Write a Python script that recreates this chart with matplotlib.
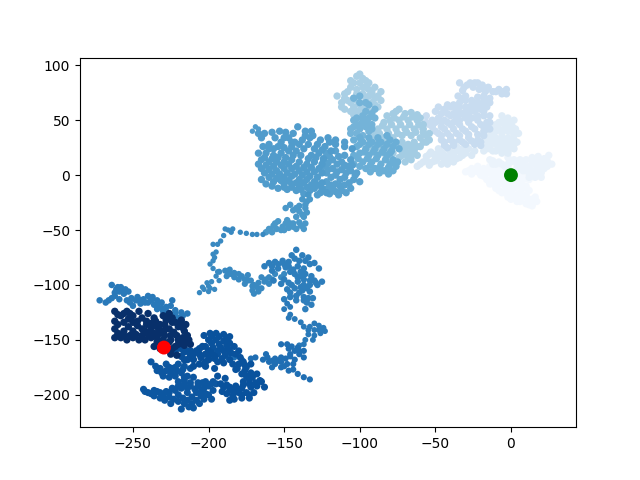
#!/usr/bin/python3
# -*- coding: utf-8 -*-
"""
Random walk, points read off the picture section by section
"""
import numpy as np
import matplotlib
matplotlib.use("Agg")
import matplotlib.pyplot as plt

start_point = (0, 0)
end_point = (-229.5, -157)

sec_01 = [(-30,3),(-26,6),(-26,1),(-22,3),(-22,8),(-18,6),(-18,-1),(-14,2),(-14,-8),(-14,8),(-10,-12),(-10,-3),(-10,5),(-6,-6),(-6,2),(-6,-16),
          (-2,-12),(-2,-4),(-2,-20),(2,-20),(2,-12),(2,-6),(6,-24),(6,-16),(6,-8),(10,-26),(10,-18),(10,-10),(14,-28),(14,-22),(-3,5),(3,4),(17,-24),(7,0),(12,-4),
          (-28,4),(-24,4),(-20,4),(-20,0),(-16,3),(-16,-4),(-12,-2),(-12,-8),(-12,3),(-8,-8),(-8,0),(-8,-14),(-8,6),(-4,-10),(-4,-2),(-4,-16),(0,-8),(0,-15),(0,-22),
          (4,-10),(4,-18),(4,-24),(8,-12),(8,-20),(8,-4),(12,-14),(12,-22),(12,-27),(16,-20),(4,-2),(-1,2),(6,3)]
sec_02 = [(8,4),(12,0),(12,8),(16,4),(20,2),(16,10),(20,10),(24,8),(27,10),(22,15),(25,18),(18,17),(14,16),(10,14),(6,14),(2,14),(-2,16),(-2,10),(4,10),(-4,8),(-8,12),(-12,10),(16,0),(8,9),(-14,14),
          (10,4),(14,4),(18,6),(22,6),(14,12),(18,13),(22,11),(8,11),(0,12),(4,7),(-2,7),(6,6),(-6,10),(-10,10),(-12,13),(24,13),(12,-2),(16,-2),(20,-2)]
sec_03 = [(-18,22),(-14,24),(-10,22),(-6,24),(-2,22),(2,24),(-16,30),(-12,32),(-8,30),(-4,32),(0,30),(4,30),(-14,38),(-10,40),(-6,38),(-2,40),(2,36),(5,38),(-10,46),(-6,48),(-2,46),(1,44),(-6,54),(-2,52),(2,50),(-14,44),(-18,28),(-20,34),
          (-16,24),(-12,22),(-8,26),(-4,26),(0,26),(-14,28),(-10,28),(-6,28),(-2,28),(2,28),(-18,32),(-14,34),(-10,34),(-6,34),(-2,34),(2,32),(-16,40),(-12,36),(-8,42),(-4,42),(0,40),(3,42),(-12,42),(-8,48),(-4,50),(0,48),(-4,44),(-16,36),(-2,20),(-6,20)]
sec_04 = [(-62,8),(-58,12),(-54,9),(-50,13),(-46,10),(-42,14),(-38,12),(-34,16),(-56,17),(-50,19),(-44,18),(-38,19),(-34,22),(-48,24),(-42,24),(-36,26),(-30,20),(-26,18),(-53,21),(-28,24),(-24,22),
          (-60,10),(-56,14),(-52,12),(-48,16),(-44,14),(-40,16),(-36,15),(-32,18),(-54,19),(-46,21),(-40,21),(-32,24),(-50,16),(-36,22),(-42,10)]
sec_05 = [(-60,44),(-56,48),(-52,50),(-48,52),(-44,50),(-40,54),(-36,52),(-32,56),(-28,56),(-24,58),(-20,60),(-18,54),(-52,44),(-46,44),(-40,46),(-34,46),(-28,48),(-22,50),(-16,48),(-14,42),(-18,44),
          (-48,38),(-42,38),(-36,38),(-30,40),(-24,42),(-18,36),(-46,32),(-40,32),(-34,32),(-28,34),(-22,32),(-44,27),(-38,27),(-30,28),(-24,28),(-20,27),
          (-44,60),(-40,62),(-36,60),(-34,66),(-30,62),(-26,64),(-22,66),(-18,68),(-16,62),(-50,58),(-56,54),(-30,68),(-35,72),(-32,77),(-34,84),(-29,82),(-25,80),(-21,78),(-17,76),(-22,84),(-19,82),(-15,80),(-12,76),(-8,78),(-5,76),(-3,78),(-18,72),(-14,70),
          (-58,46),(-54,46),(-50,48),(-46,48),(-42,48),(-38,48),(-34,50),(-30,52),(-26,52),(-22,54),(-18,58),(-14,54),(-14,48),(-50,40),(-44,42),(-38,42),(-32,42),(-26,44),(-20,46),(-16,42),(-46,36),(-40,35),(-34,36),(-28,37),(-22,37),(-18,40),
          (-44,30),(-38,30),(-32,30),(-26,31),(-20,30),(-42,25),(-42,56),(-38,56),(-34,56),(-46,56),(-30,58),(-26,60),(-22,62),(-18,64),(-38,64),(-34,62),(-42,64),(-48,62),(-26,68),(-22,71),(-14,66),(-27,84),(-24,84),(-31,80),(-20,80),(-16,78),(-10,76),(-6,74),(-3,74),(-30,72),(-32,70)]
sec_06 = [(-94,22),(-90,26),(-86,28),(-82,24),(-78,20),(-74,16),(-70,12),(-66,14),(-72,22),(-68,20),(-64,22),(-76,28),(-72,30),(-68,28),(-64,30),(-60,26),(-56,30),(-90,34),(-84,34),(-78,34),(-72,36),(-66,36),(-60,34),(-56,36),
          (-54,32),(-88,42),(-82,42),(-76,42),(-70,42),(-64,42),(-58,42),(-54,38),(-80,50),(-74,50),(-68,50),(-62,50),(-58,46),(-84,48),(-78,56),(-74,60),(-70,56),
          (-92,24),(-88,22),(-84,20),(-80,16),(-76,12),(-72,18),(-68,16),(-66,18),(-62,18),(-88,30),(-82,30),(-78,30),(-74,26),(-70,25),(-66,25),(-62,26),(-58,30),(-87,38),(-81,38),(-75,38),(-69,39),(-63,39),(-58,39),(-85,45),(-79,46),(-73,46),(-67,46),(-61,46),(-77,52),(-71,53),(-65,53),(-60,52),(-82,54),(-66,57),(-62,55),(-76,58),(-91,38)]
sec_07 = [(-104,55),(-108,68),(-104,62),(-100,58),(-96,62),(-92,66),(-88,62),(-86,68),(-110,74),(-106,80),(-102,78),(-98,74),(-94,72),(-90,70),(-86,76),(-106,86),(-102,90),(-98,88),(-94,84),(-90,80),(-112,66),(-115,72),(-100,92),(-104,70),(-96,80),(-110,60),
          (-106,58),(-102,58),(-98,60),(-94,58),(-90,64),(-106,66),(-100,64),(-96,70),(-92,76),(-88,72),(-108,76),(-102,74),(-98,80),(-94,78),(-104,84),(-100,84),(-96,86),(-92,74),(-110,70),(-112,62),(-102,68)]
sec_08 = [(-106,42),(-102,38),(-98,36),(-94,40),(-92,46),(-96,48),(-100,46),(-104,50),(-98,54),(-94,52),(-90,52),(-106,38),(-102,46),(-104,70),(-100,72),(-96,66),(-100,66),(-94,64),(-90,60),
          (-100,42),(-96,44),(-92,42),(-104,44),(-98,50),(-94,46),(-102,52),(-92,56),(-96,58)]
sec_09 = [(-104,32),(-98,30),(-92,30),(-86,30),(-80,32),(-102,26),(-96,24),(-90,24),(-84,24),(-78,26),(-74,24),(-100,20),(-94,18),(-88,18),(-82,18),(-78,14),(-104,18),(-98,12),(-92,12),(-86,10),(-80,10),(-76,8),(-104,10),(-96,6),(-90,6),(-84,4),(-78,4),(-80,20),
          (-100,34),(-94,34),(-88,34),(-82,36),(-100,28),(-94,28),(-88,28),(-82,28),(-76,30),(-97,21),(-91,21),(-85,21),(-79,22),(-101,15),(-95,15),(-89,15),(-83,14),(-77,11),(-100,8),(-93,9),(-87,7),(-81,7),(-75,12),(-93,3),(-87,2),(-81,1)]
sec_10 = [(-122,20),(-116,22),(-110,18),(-106,14),(-124,14),(-118,14),(-112,12),(-108,8),(-124,8),(-118,6),(-112,5),(-106,4),(-102,2),(-122,2),(-116,0),(-110,-2),(-104,-4),(-100,-6),(-122,-6),(-116,-8),(-110,-9),(-118,-12),(-112,-14),(-106,-12),(-124,-14),(-120,-17),(-114,-18),
          (-120,17),(-114,17),(-121,11),(-115,10),(-110,9),(-105,9),(-121,5),(-115,3),(-109,2),(-103,0),(-119,-2),(-113,-4),(-107,-7),(-119,-9),(-113,-10),(-121,-12),(-116,-15),(-109,-16)]
sec_11 = [(-167,38),(-163,38),(-158,39),(-153,40),(-149,39),(-144,38),(-141,44),(-136,40),(-132,40),(-165,34),(-160,28),(-157,24),(-152,30),(-147,34),(-143,30),(-138,32),(-133,34),(-128,28),(-123,26),
          (-167,20),(-162,20),(-157,18),(-152,20),(-147,22),(-142,22),(-137,24),(-132,18),(-127,20),(-120,30),(-116,28),(-110,26),(-105,24),(-165,14),(-160,12),(-155,12),(-150,12),(-145,14),(-140,12),(-135,10),(-130,12),(-125,10),
          (-165,6),(-160,5),(-155,4),(-150,6),(-145,6),(-140,4),(-135,3),(-130,3),(-125,2),(-160,-2),(-155,-3),(-150,-2),(-145,-1),(-140,-4),(-135,-4),(-130,-6),(-125,-7),(-150,-8),(-145,-8),(-140,-10),(-135,-11),(-130,-12),(-125,-12),
          (-162,-8),(-158,-10),(-154,-12),(-148,-13),(-142,-14),(-137,-17),(-128,-18),(-126,-16),
          (-156,34),(-150,34),(-145,30),(-140,28),(-136,36),(-131,36),(-126,32),(-121,34),(-116,32),(-110,30),(-164,26),(-160,24),(-154,26),(-150,25),(-145,26),(-134,28),(-130,24),(-125,23),(-119,22),
          (-163,16),(-158,15),(-154,16),(-149,16),(-144,18),(-139,18),(-134,15),(-129,16),(-124,15),(-167,10),(-162,9),(-157,8),(-152,9),(-147,10),(-142,8),(-137,7),(-132,7),(-127,6),(-163,2),(-158,1),(-153,1),(-148,2),(-143,1),(-138,0),(-133,-1),(-128,-2),
          (-157,-6),(-152,-5),(-147,-5),(-142,-7),(-137,-7),(-132,-9),(-127,-9),(-150,-11),(-145,-11),(-139,-13),(-133,-14),(-122,-16),(-165,-4)]
sec_11b = [(-171,40),(-169,44),(-167,42)]
sec_12 = [(-134,-18),(-135,-24),(-138,-22),(-136,-30),(-140,-28),(-146,-27),(-149,-30),(-144,-32),(-140,-33),(-135,-34),(-137,-38),(-142,-38),(-144,-44),(-148,-41),(-140,-43),(-136,-44),(-137,-49),(-142,-49),(-147,-48),(-151,-47),(-154,-42),(-157,-46),(-160,-49),(-162,-52),(-158,-52),(-155,-49),(-150,-50),
          (-133,-22),(-136,-27),(-142,-30),(-138,-36),(-146,-44),(-139,-46),(-144,-47),(-149,-44),(-152,-50),(-159,-50),(-156,-44)]
sec_13 = [(-164,-54),(-168,-54),(-171,-54),(-175,-53),(-179,-52),(-184,-49),(-189,-49),(-185,-52),(-190,-55),(-192,-60),(-194,-63),(-197,-63),(-195,-70),(-197,-72),(-197,-78),(-199,-81),(-197,-85),(-194,-88),(-195,-92),(-193,-96),(-198,-97),(-200,-101),(-203,-104),(-206,-107),(-200,-106),(-196,-104),
          (-187,-50),(-196,-75),(-201,-98),(-204,-102),(-199,-103)]
sec_14 = [(-193,-88),(-189,-87),(-186,-86),(-185,-90),(-188,-92),(-183,-93),(-180,-90),(-180,-95),(-176,-95),(-176,-99),(-172,-96),(-174,-91),(-170,-100),(-171,-105),(-167,-106),(-170,-108),(-165,-103),(-167,-98),(-163,-97),(-160,-99),(-165,-93),(-160,-93),(-156,-90),(-150,-90),
          (-187,-90),(-183,-89),(-178,-92),(-174,-96),(-171,-101),(-168,-102),(-162,-95),(-158,-95),(-152,-93)]
sec_15 = [(-163,-83),(-160,-80),(-156,-79),(-154,-85),(-158,-87),(-151,-78),(-147,-79),(-145,-73),(-142,-68),(-138,-73),(-134,-75),(-130,-80),(-127,-85),(-133,-81),(-149,-84),(-146,-88),(-141,-83),(-137,-85),(-143,-90),(-139,-92),(-136,-90),(-132,-92),(-130,-96),(-125,-97),(-128,-100),(-141,-97),(-137,-100),
          (-133,-100),(-147,-98),(-152,-99),(-157,-96),(-148,-104),(-143,-103),(-138,-105),(-133,-106),(-137,-111),(-142,-110),(-146,-111),(-150,-113),(-135,-116),(-132,-118),(-136,-122),(-131,-112),
          (-158,-83),(-154,-81),(-150,-81),(-147,-83),(-143,-76),(-140,-78),(-136,-78),(-139,-88),(-144,-86),(-141,-93),(-137,-95),(-133,-96),(-139,-102),(-135,-103),(-145,-100),(-150,-95),(-140,-107),(-146,-107),(-137,-114),(-134,-112),(-129,-98),(-142,-114)]
sec_16 = [(-148,-117),(-146,-120),(-150,-122),(-146,-127),(-147,-130),(-143,-131),(-139,-134),(-137,-138),(-134,-141),(-130,-135),(-127,-137),(-124,-139),(-123,-142),(-126,-144),(-130,-146),(-134,-145),(-136,-150),(-131,-150),(-137,-154),(-140,-155),
          (-127,-141),(-130,-141),(-133,-138),(-125,-141)]
sec_17 = [(-133,-186),(-137,-184),(-141,-181),(-144,-177),(-147,-178),(-148,-172),(-152,-170),(-149,-167),(-146,-165),(-152,-166),(-156,-167),(-152,-175),(-156,-172),(-160,-170),(-161,-166),(-162,-163),(-158,-175),(-143,-168),(-147,-158),(-143,-160),(-148,-154),(-141,-157),(-137,-160),(-137,-166),(-140,-163),(-152,-154),(-146,-163),(-164,-168),(-169,-166),(-172,-167),(-178,-168),(-183,-166),(-187,-166),
          (-158,-169),(-154,-169),(-150,-174),(-144,-172),(-140,-160),(-145,-156)]
sec_18 = [(-272,-114),(-268,-116),(-264,-112),(-262,-107),(-264,-100),(-261,-104),(-258,-102),(-256,-108),(-253,-106),(-251,-112),(-247,-111),(-243,-113),(-240,-110),(-237,-111),(-234,-114),(-231,-116),(-228,-120),(-224,-114),(-236,-118),(-240,-116),(-245,-117),(-250,-119),(-254,-114),(-230,-124),(-226,-126),(-222,-123),(-220,-130),(-217,-128),(-214,-126),(-234,-122),(-259,-113),
          (-266,-114),(-262,-110),(-259,-106),(-255,-104),(-245,-114),(-242,-116),(-238,-114),(-234,-118),(-231,-121),(-228,-124),(-225,-119),(-222,-126),(-218,-125),(-248,-114),(-252,-116),(-260,-102),(-258,-105)]
sec_19 = [(-203,-146),(-199,-144),(-195,-144),(-190,-145),(-186,-147),(-200,-150),(-195,-150),(-190,-151),(-186,-153),(-202,-156),(-197,-157),(-192,-157),(-187,-158),(-183,-156),(-199,-163),(-194,-163),(-189,-164),(-185,-162),(-180,-160),(-179,-166),(-172,-172),(-194,-170),(-190,-171),(-184,-172),(-177,-170),(-196,-176),(-181,-176),(-175,-175),(-172,-180),(-178,-181),(-194,-183),(-189,-185),(-173,-186),(-177,-188),(-171,-184),
          (-192,-190),(-188,-191),(-168,-181),(-166,-187),(-163,-193),(-168,-192),(-172,-193),(-178,-194),(-182,-192),(-186,-196),(-180,-198),(-175,-198),(-170,-198),(-184,-201),(-178,-203),(-173,-203),(-191,-197),(-186,-205),(-165,-188),
          (-198,-147),(-193,-147),(-188,-149),(-198,-153),(-193,-154),(-188,-155),(-199,-160),(-194,-160),(-190,-160),(-186,-160),(-182,-163),(-196,-167),(-191,-167),(-186,-168),(-180,-172),(-176,-173),
          (-190,-193),(-186,-193),(-182,-195),(-177,-191),(-173,-190),(-169,-189),(-188,-199),(-183,-198),(-178,-200),(-173,-200),(-183,-204),(-175,-183),(-176,-178),(-182,-177)]
sec_20 = [(-238,-170),(-235,-174),(-232,-176),(-228,-178),(-224,-176),(-230,-183),(-226,-184),(-222,-183),(-218,-180),(-214,-183),(-220,-172),(-216,-174),(-212,-176),(-228,-172),(-210,-184),
          (-243,-195),(-240,-198),(-236,-196),(-232,-198),(-228,-197),(-224,-194),(-220,-192),(-216,-190),(-212,-192),(-207,-192),(-203,-194),(-198,-190),(-236,-201),(-232,-203),(-226,-202),(-220,-200),(-214,-198),(-208,-198),(-202,-199),(-197,-196),(-225,-208),(-220,-206),(-214,-205),(-208,-205),(-203,-204),
          (-218,-213),(-213,-211),(-210,-212),(-206,-208),(-198,-204),(-220,-188),(-216,-184),(-204,-189),(-195,-190),
          (-242,-197),(-238,-199),(-234,-197),(-230,-200),(-226,-198),(-222,-196),(-218,-194),(-214,-194),(-209,-195),(-205,-197),(-200,-192),(-229,-205),(-223,-204),(-217,-203),(-211,-202),(-205,-201),(-200,-200),(-216,-208),(-211,-208),(-216,-187),(-212,-189),(-207,-189),(-225,-180),(-231,-180),(-234,-178),(-221,-178),(-217,-177),(-222,-175),(-226,-175),(-202,-188),(-197,-188)]
sec_21 = [(-222,-160),(-218,-158),(-214,-160),(-212,-164),(-208,-160),(-204,-156),(-200,-160),(-218,-165),(-214,-168),(-210,-168),(-205,-166),(-200,-168),(-196,-165),(-206,-172),(-202,-174),(-210,-174),
          (-220,-156),(-216,-161),(-212,-160),(-206,-158),(-202,-163),(-210,-163),(-206,-163),(-202,-170),(-198,-162),(-216,-168)]
sec_22 = [(-262,-124),(-258,-128),(-254,-124),(-250,-128),(-246,-124),(-262,-133),(-256,-134),(-250,-134),(-244,-130),(-240,-126),(-236,-130),(-262,-140),(-262,-148),(-258,-148),(-254,-150),(-250,-148),(-246,-150),(-242,-150),(-238,-148),(-256,-142),(-250,-142),(-244,-140),(-238,-140),(-232,-136),(-228,-132),(-224,-130),(-232,-144),(-226,-140),(-220,-138),(-216,-142),
          (-234,-152),(-230,-150),(-225,-150),(-221,-146),(-217,-148),(-213,-150),(-236,-156),(-232,-158),(-228,-155),(-224,-158),(-220,-154),(-216,-155),(-212,-154),(-225,-163),(-221,-164),(-222,-134),(-226,-126),(-230,-128),(-218,-132),(-215,-136),
          (-260,-127),(-256,-126),(-252,-126),(-260,-136),(-253,-131),(-247,-133),(-241,-133),(-235,-133),(-260,-144),(-256,-146),(-252,-146),(-248,-145),(-244,-146),(-240,-145),(-236,-144),(-253,-138),(-247,-137),(-241,-136),(-235,-137),(-229,-136),(-224,-134),(-219,-135),(-229,-141),(-223,-143),(-217,-139),
          (-234,-148),(-229,-146),(-225,-146),(-220,-150),(-216,-152),(-230,-154),(-226,-152),(-222,-156),(-218,-152),(-214,-146),(-227,-130),(-233,-140),(-238,-135),(-242,-142)]

sections = [sec_01, sec_02, sec_03, sec_04, sec_05, sec_06, sec_07, sec_08, sec_09, sec_10, sec_11, sec_11b,
            sec_12, sec_13, sec_14, sec_15, sec_16, sec_17, sec_18, sec_19, sec_20, sec_21, sec_22]
# colour read per section, as position in the Blues map
shades = [0.02, 0.06, 0.12, 0.15, 0.24, 0.36, 0.34, 0.48, 0.50, 0.56, 0.58, 0.58,
          0.60, 0.66, 0.66, 0.70, 0.72, 0.76, 0.72, 0.87, 0.85, 0.88, 1.0]
# the thin trails keep the small dot, the dense blobs get a bigger one to close up
dot_sizes = [28, 28, 28, 28, 28, 28, 28, 28, 28, 28, 28, 15,
             22, 15, 20, 22, 18, 20, 22, 26, 26, 28, 28]


def main():
    x, y, c, s = [], [], [], []
    for sec, shade, size in zip(sections, shades, dot_sizes):
        for px, py in sec:
            x.append(px)
            y.append(py)
            c.append(shade)
            s.append(size)
    order = np.argsort(c, kind="stable")
    x, y, c, s = np.array(x)[order], np.array(y)[order], np.array(c)[order], np.array(s)[order]
    fig, ax = plt.subplots()
    ax.scatter(x, y, c=c, s=s, cmap=plt.cm.Blues, vmin=0, vmax=1, edgecolors='none')
    ax.scatter(start_point[0], start_point[1], c='green', edgecolors='none', s=100)
    ax.scatter(end_point[0], end_point[1], c='red', edgecolors='none', s=100)
    ax.set_xlim(-285, 43)
    ax.set_ylim(-229.5, 107)
    fig.savefig("out.png", dpi=100)


if __name__ == "__main__":
    main()
